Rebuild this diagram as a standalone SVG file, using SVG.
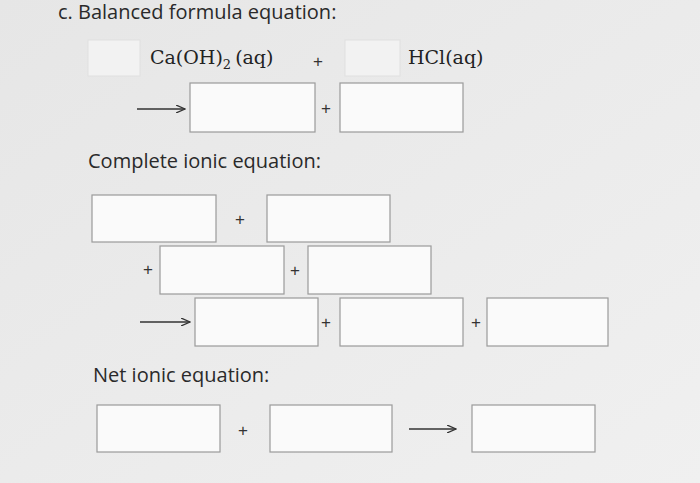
<svg xmlns="http://www.w3.org/2000/svg" width="700" height="483" viewBox="0 0 700 483">
<defs>
<linearGradient id="bg" x1="0" y1="0" x2="1" y2="1"><stop offset="0" stop-color="#e6e6e6"/><stop offset="1" stop-color="#f0f0f0"/></linearGradient>
<marker id="ah" markerWidth="10" markerHeight="8" refX="9" refY="4" orient="auto" markerUnits="userSpaceOnUse"><path d="M0,0 L9,4 L0,8" fill="none" stroke="#333" stroke-width="1.3"/></marker>
</defs>
<style>
.b{fill:#fafafa;stroke:#9a9a9a;stroke-width:1.2}
.f{fill:#f2f2f2;stroke:#e0e0e0;stroke-width:1}
.t{font-family:"Open Sans","Liberation Sans",sans-serif;font-size:20px;fill:#2a2a2a}
.s{font-family:"DejaVu Serif","Liberation Serif",serif;font-size:19px;fill:#222}
.p{font-family:"Liberation Sans",sans-serif;font-size:17px;fill:#333;text-anchor:middle}
.a{stroke:#333;stroke-width:1.5;fill:none;marker-end:url(#ah)}
</style>
<rect width="700" height="483" fill="url(#bg)"/>
<text class="t" x="58" y="19">c. Balanced formula equation:</text>
<rect class="f" x="88" y="40" width="52" height="36"/>
<text class="s" x="150" y="64">Ca(OH)<tspan font-size="13" dy="5">2</tspan><tspan dy="-5" dx="4">(aq)</tspan></text>
<text class="p" x="318" y="67">+</text>
<rect class="f" x="345" y="40" width="55" height="36"/>
<text class="s" x="408" y="64">HCl(aq)</text>
<g id="connectors">
<line class="a" x1="137" y1="109" x2="185" y2="109"/>
<line class="a" x1="140" y1="322" x2="190" y2="322"/>
<line class="a" x1="409" y1="429" x2="456" y2="429"/>
</g>
<rect class="b" x="190" y="83" width="125" height="49"/>
<text class="p" x="326" y="114">+</text>
<rect class="b" x="340" y="83" width="123" height="49"/>
<text class="t" x="88" y="168">Complete ionic equation:</text>
<rect class="b" x="92" y="195" width="124" height="47"/>
<text class="p" x="240" y="225">+</text>
<rect class="b" x="267" y="195" width="123" height="47"/>
<text class="p" x="148" y="275">+</text>
<rect class="b" x="160" y="246" width="124" height="48"/>
<text class="p" x="295" y="276">+</text>
<rect class="b" x="308" y="246" width="123" height="48"/>
<rect class="b" x="195" y="298" width="123" height="48"/>
<text class="p" x="326" y="328">+</text>
<rect class="b" x="340" y="298" width="123" height="48"/>
<text class="p" x="476" y="328">+</text>
<rect class="b" x="487" y="298" width="121" height="48"/>
<text class="t" x="93" y="382">Net ionic equation:</text>
<rect class="b" x="97" y="405" width="123" height="47"/>
<text class="p" x="243" y="436">+</text>
<rect class="b" x="270" y="405" width="122" height="47"/>
<rect class="b" x="472" y="405" width="123" height="47"/>
</svg>
